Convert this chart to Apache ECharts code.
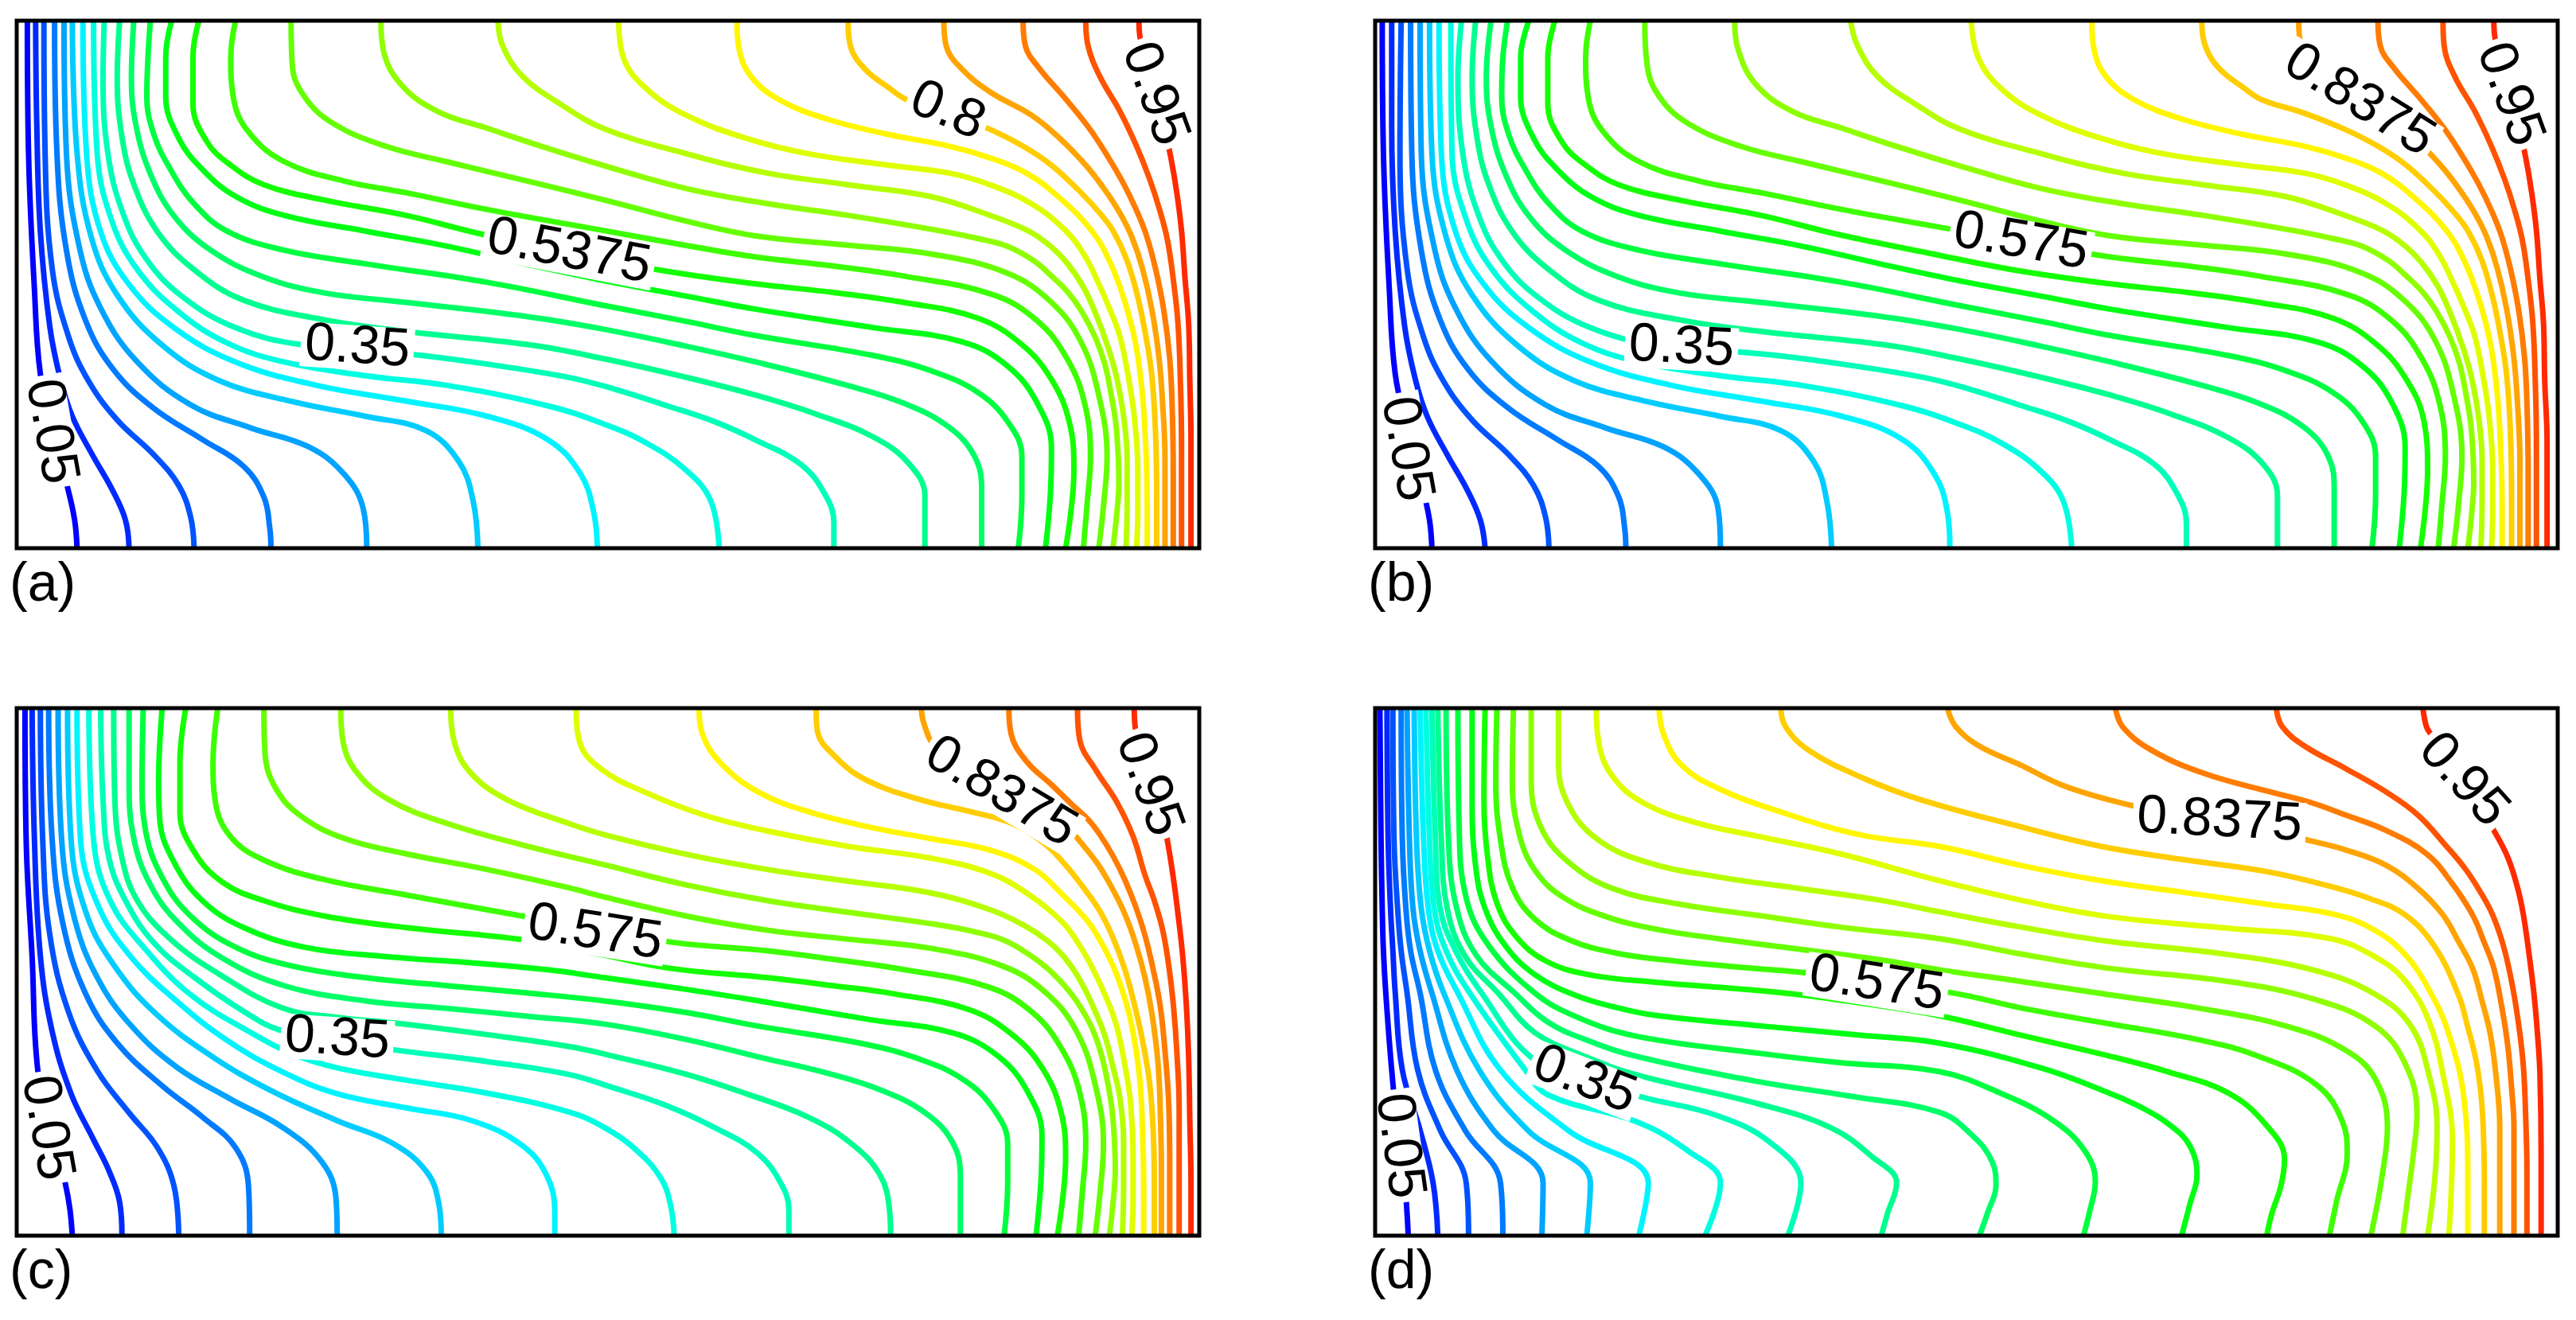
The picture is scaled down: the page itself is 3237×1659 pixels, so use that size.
<!DOCTYPE html>
<html><head><meta charset="utf-8">
<script src="https://cdn.jsdelivr.net/npm/echarts/dist/echarts.min.js"></script>
<style>html,body{margin:0;padding:0;background:#fff;}#c{width:3237px;height:1659px;}</style>
</head><body><div id="c"></div>
<script>
// contour levels (25 isotherms)
const levels = [0.05,0.0875,0.125,0.1625,0.2,0.2375,0.275,0.3125,0.35,0.3875,0.425,0.4625,0.5,0.5375,0.575,0.6125,0.65,0.6875,0.725,0.7625,0.8,0.8375,0.875,0.9125,0.95];

// panel (a): x,y in % of cavity width/height
const linesA = [
[[0.9,100],[1.0,75],[1.5,49],[2.0,33],[3.1,22],[4.3,11.5],[4.9,5.3],[5.1,0]],
[[1.6,100],[1.7,80],[2.0,60],[2.8,42],[3.7,32],[4.7,25],[6.4,17.7],[8.1,11],[9.2,5.3],[9.5,0]],
[[2.3,100],[2.4,75],[3.0,53],[4.4,40],[6.1,31.6],[8.5,24.3],[11.6,17.7],[13.7,11.9],[14.7,6],[15.0,0]],
[[3.2,100],[3.4,75],[4.2,56.5],[5.8,43.3],[8.2,33.8],[11.6,26.5],[15.7,20.6],[19.2,15.5],[20.9,9.7],[21.4,3.8],[21.5,0]],
[[4.0,100],[4.2,75],[5.3,57],[7.1,45.5],[10.2,35.3],[14.7,27.2],[19.8,22.8],[24.7,19.2],[27.7,14],[29.3,7.5],[29.6,0]],
[[4.7,100],[5.1,75],[6.3,59],[8.5,48],[12.3,38.5],[17.1,31.8],[23.3,27.8],[29.5,25.0],[34.6,22.3],[37.4,16.4],[38.6,8.9],[39.0,0]],
[[5.6,100],[5.9,75],[7.1,60],[9.5,50],[13.3,41.8],[18.5,35.3],[25.3,30.9],[32.9,27.9],[39.8,25],[44.9,20.6],[47.7,14],[48.8,6.7],[49.1,0]],
[[6.5,100],[6.8,75],[8.0,62.3],[10.2,52.8],[13.7,44.8],[17.8,38.9],[22.6,35.3],[29.5,32.7],[36.3,30.9],[44.9,27.0],[49.7,23.5],[53.2,20.0],[56.6,14.8],[58.7,8.9],[59.4,0]],
[[7.4,100],[7.3,89],[7.7,75],[8.9,64],[10.9,55],[14.0,47.7],[18.5,41.8],[24.0,38.6],[33.6,36.7],[39.8,34.9],[46.6,32.4],[50.5,30.2],[55.0,27.0],[59.0,24.0],[62.5,20.5],[66.3,15.9],[68.3,10.4],[69.1,4.8],[69.1,0]],
[[8.7,100],[8.5,89],[8.9,78],[9.9,69],[11.9,60],[15.0,52.8],[19.2,47],[26.0,43.3],[32.9,41.1],[43.2,38.6],[49.7,35.9],[56.6,32.4],[62.5,29.0],[67.5,25.5],[72.5,21.0],[75.5,15.9],[76.8,9.9],[76.8,0]],
[[9.9,100],[9.7,89],[10.1,80],[11.3,71],[13.3,63],[16.4,56.5],[20.9,51.4],[26.0,48.4],[32.9,46.6],[43.2,43.9],[49.7,41.5],[56.6,38.3],[62.5,35.3],[70.0,31.0],[75.0,27.5],[78.8,23.0],[81.0,17.4],[81.6,11],[81.6,0]],
[[11.3,100],[11.1,93],[11.0,85.7],[11.6,78.4],[13.0,71.8],[15.0,65.3],[17.8,60.1],[22.6,56.5],[29.5,53.9],[39.8,50.4],[49.7,46.0],[56.6,43.0],[62.5,40.3],[72.5,36.5],[77.5,33.5],[81.3,29.5],[83.8,24.0],[85.0,17.4],[85.0,9.9],[84.7,0]],
[[13.1,100],[12.6,93],[12.6,85.7],[13.7,77.7],[15.7,71.8],[18.5,66.7],[22.6,63.1],[29.5,60.1],[36.3,57.3],[43.2,53.8],[49.7,50.7],[56.6,47.8],[62.5,45.3],[72.5,41.8],[80.0,39.1],[83.8,34.5],[86.3,27.5],[87.5,19.0],[87.4,9.9],[87.0,0]],
[[15.4,100],[14.9,93],[14.9,84.3],[16.1,77],[18.1,72.6],[20.9,68.9],[26.0,66],[32.9,63.1],[39.4,59.5],[47,56],[54.2,52.8],[62.5,50.1],[69.0,48.5],[75.0,46.6],[81.3,43.6],[85.0,38.6],[87.5,32.0],[89.0,24.0],[89.4,14.9],[88.7,0]],
[[18.5,100],[18.1,93],[18.3,85.7],[19.5,79.2],[22.6,73.3],[27.7,69.6],[32.9,67.4],[39.8,64.2],[49.7,60.2],[56.6,57.4],[62.5,55.2],[69.0,53.5],[75.0,51.6],[82.5,48.1],[86.3,43.1],[88.8,36.0],[90.3,27.5],[90.8,17.4],[90.5,8],[90.2,0]],
[[23.2,100],[23.3,91.6],[24.3,85.7],[26.7,80.6],[31.2,76.2],[36.3,73.3],[43.2,69.6],[49.7,66.0],[56.6,62.0],[62.5,59.2],[70.0,57.5],[77.5,55.7],[83.8,52.1],[87.5,46.6],[90.0,39.1],[91.5,29.0],[92.2,17.4],[91.9,8],[91.5,0]],
[[30.8,100],[31.0,94.5],[32.5,87.9],[35.6,82.8],[39.8,79.6],[44.9,75.8],[49.7,72.5],[56.6,68.2],[63.5,65.3],[70.3,63.1],[78.0,60.2],[81.5,58.6],[83.8,57.2],[86.0,54.5],[87.5,51.6],[88.9,48.5],[90.0,45.1],[91.2,40],[92.0,35.0],[92.6,28.5],[93.0,22.5],[93.2,12.4],[93.0,6],[92.7,0]],
[[40.7,100],[41.1,95.2],[42.8,89.4],[45.9,84.3],[49.7,79.5],[56.6,74.8],[63.5,71.1],[70.3,68.9],[77.2,66.7],[82.3,63.1],[85.5,60.2],[87.4,57.3],[88.8,54.1],[90.2,49.5],[91.3,44.1],[92.3,38],[93.0,32.5],[93.6,25],[93.9,17],[93.9,8],[93.8,0]],
[[50.9,100],[51.3,93],[53.2,87.2],[56.6,82.1],[61.7,77.7],[66.9,74.8],[73.8,72.6],[78.9,71.1],[82.3,68.9],[85.8,65.3],[88.7,60.2],[90.3,55.5],[91.3,51.1],[92.4,45.5],[93.3,40.1],[94.0,32.5],[94.5,25.0],[94.8,15],[94.8,7],[94.7,0]],
[[60.9,100],[61.1,94.5],[62.1,89.4],[64.5,85],[68.6,81.3],[73.8,78.4],[78.9,76.2],[82.3,74],[85.4,71.1],[88.3,66.2],[90.9,60.2],[92.4,54.5],[93.6,47.5],[94.6,39],[95.2,29],[95.5,18],[95.6,8],[95.6,0]],
[[70.3,100],[70.5,95.2],[71.7,90.9],[73.8,87.2],[75.3,85],[78.7,82.6],[82.2,79.5],[85.1,76.2],[87.5,72.6],[90.0,67.4],[91.6,63.5],[92.7,60.2],[93.9,54.5],[94.8,47.6],[95.5,40],[96.0,32.5],[96.3,22],[96.4,10],[96.4,0]],
[[78.4,100],[78.6,95.2],[79.9,90.9],[82.3,86.5],[85.8,82.1],[88.2,77.7],[90.4,72.6],[92.0,68.0],[93.3,63.5],[94.3,59],[95.2,53],[96.0,45.1],[96.6,36],[96.9,27.5],[97.1,17],[97.1,0]],
[[85.1,100],[85.3,95.2],[86.5,90.9],[88.5,85.7],[90.6,79.9],[92.2,74.5],[93.5,69.5],[94.6,64.5],[95.5,59.5],[96.3,53],[97.0,45.1],[97.5,36],[97.7,27.5],[97.8,15],[97.8,0]],
[[90.4,100],[90.6,95.2],[91.6,89.4],[93.3,82.8],[94.7,76.2],[95.8,70],[96.6,64.5],[97.3,58.5],[97.8,51],[98.2,42.6],[98.4,32],[98.5,20],[98.5,0]],
[[94.9,100],[95.0,96.7],[95.6,91],[96.3,86],[97.0,80],[97.6,74],[98.1,67.4],[98.5,60.2],[98.8,51],[99.1,42.6],[99.2,32],[99.3,20],[99.3,0]]
];

// panel (b)
const linesB = [
[[0.6,100],[0.7,75],[1.2,49],[1.7,33],[2.8,22],[4.0,11.5],[4.6,5.3],[4.8,0]],
[[1.4,100],[1.4,80],[1.7,60],[2.5,42],[3.4,32],[4.4,25],[6.1,17.7],[7.8,11],[8.9,5.3],[9.3,0]],
[[2.2,100],[2.1,75],[2.7,53],[4.1,40],[5.8,31.6],[8.2,24.3],[11.3,17.7],[13.4,11.9],[14.4,6],[14.7,0]],
[[3.0,100],[3.1,75],[3.9,56.5],[5.5,43.3],[7.9,33.8],[11.3,26.5],[15.4,20.6],[18.9,15.5],[20.6,9.7],[21.1,3.8],[21.2,0]],
[[3.8,100],[3.9,75],[5.0,57],[6.8,45.5],[9.9,35.3],[14.4,27.2],[19.5,22.8],[24.4,19.2],[27.4,14],[29.0,7.5],[29.2,0]],
[[4.6,100],[4.8,75],[6.0,59],[8.2,48],[12.0,38.5],[16.8,31.8],[23.0,27.8],[29.2,25.0],[34.3,22.3],[37.1,16.4],[38.2,8.9],[38.6,0]],
[[5.4,100],[5.6,75],[6.8,60],[9.2,50],[13.0,41.8],[18.2,35.3],[25.0,30.9],[32.6,27.9],[39.5,25],[44.6,20.6],[47.3,14],[48.4,6.7],[48.6,0]],
[[6.4,100],[6.5,75],[7.7,62.3],[9.9,52.8],[13.4,44.8],[17.5,38.9],[22.3,35.3],[29.2,32.7],[36.0,30.9],[44.6,27.0],[49.4,23.5],[52.9,20.0],[56.2,14.8],[58.2,8.9],[58.9,0]],
[[7.3,100],[7.0,89],[7.4,75],[8.6,64],[10.6,55],[13.7,47.7],[18.2,41.8],[23.7,38.6],[33.3,36.7],[39.5,34.9],[46.3,32.4],[50.2,30.2],[54.7,27.0],[58.7,24.0],[62.2,20.5],[65.9,15.9],[67.8,10.4],[68.6,4.8],[68.6,0]],
[[8.5,100],[8.2,89],[8.6,78],[9.6,69],[11.6,60],[14.7,52.8],[18.9,47],[25.7,43.3],[32.6,41.1],[42.9,38.6],[49.4,35.9],[56.3,32.4],[62.2,29.0],[67.2,25.5],[72.1,21.0],[75.1,15.9],[76.3,9.9],[76.3,0]],
[[9.8,100],[9.4,89],[9.8,80],[11.0,71],[13.0,63],[16.1,56.5],[20.6,51.4],[25.7,48.4],[32.6,46.6],[42.9,43.9],[49.4,41.5],[56.3,38.3],[62.2,35.3],[69.7,31.0],[74.7,27.5],[78.5,23.0],[80.6,17.4],[81.1,11],[81.1,0]],
[[11.2,100],[10.8,93],[10.7,85.7],[11.3,78.4],[12.7,71.8],[14.7,65.3],[17.5,60.1],[22.3,56.5],[29.2,53.9],[39.5,50.4],[49.4,46.0],[56.3,43.0],[62.2,40.3],[72.2,36.5],[77.2,33.5],[81.0,29.5],[83.5,24.0],[84.6,17.4],[84.6,9.9],[84.3,0]],
[[13.0,100],[12.3,93],[12.3,85.7],[13.4,77.7],[15.4,71.8],[18.2,66.7],[22.3,63.1],[29.2,60.1],[36.0,57.3],[42.9,53.8],[49.4,50.7],[56.3,47.8],[62.2,45.3],[72.2,41.8],[79.7,39.1],[83.5,34.5],[86.0,27.5],[87.1,19.0],[87.0,9.9],[86.6,0]],
[[15.2,100],[14.6,93],[14.6,84.3],[15.8,77],[17.8,72.6],[20.6,68.9],[25.7,66],[32.6,63.1],[39.1,59.5],[46.7,56],[53.9,52.8],[62.2,50.1],[68.7,48.5],[74.7,46.6],[81.0,43.6],[84.7,38.6],[87.2,32.0],[88.7,24.0],[89.0,14.9],[88.4,0]],
[[18.2,100],[17.8,93],[18.0,85.7],[19.2,79.2],[22.3,73.3],[27.4,69.6],[32.6,67.4],[39.5,64.2],[49.4,60.2],[56.3,57.4],[62.2,55.2],[68.7,53.5],[74.7,51.6],[82.2,48.1],[86.0,43.1],[88.5,36.0],[90.0,27.5],[90.5,17.4],[90.2,8],[89.9,0]],
[[22.8,100],[23.0,91.6],[24.0,85.7],[26.4,80.6],[30.9,76.2],[36.0,73.3],[42.9,69.6],[49.4,66.0],[56.3,62.0],[62.2,59.2],[69.7,57.5],[77.2,55.7],[83.5,52.1],[87.2,46.6],[89.7,39.1],[91.2,29.0],[91.9,17.4],[91.6,8],[91.2,0]],
[[30.4,100],[30.7,94.5],[32.2,87.9],[35.3,82.8],[39.5,79.6],[44.6,75.8],[49.4,72.5],[56.3,68.2],[63.2,65.3],[70.0,63.1],[77.7,60.2],[81.2,58.6],[83.5,57.2],[85.7,54.5],[87.2,51.6],[88.6,48.5],[89.7,45.1],[90.9,40],[91.7,35.0],[92.3,28.5],[92.7,22.5],[92.9,12.4],[92.7,6],[92.4,0]],
[[40.2,100],[40.8,95.2],[42.5,89.4],[45.6,84.3],[49.4,79.5],[56.3,74.8],[63.2,71.1],[70.0,68.9],[76.9,66.7],[82.0,63.1],[85.2,60.2],[87.1,57.3],[88.5,54.1],[89.9,49.5],[91.0,44.1],[92.0,38],[92.7,32.5],[93.3,25],[93.6,17],[93.6,8],[93.5,0]],
[[50.4,100],[51.0,93],[52.9,87.2],[56.3,82.1],[61.4,77.7],[66.6,74.8],[73.5,72.6],[78.6,71.1],[82.0,68.9],[85.5,65.3],[88.4,60.2],[90.0,55.5],[91.0,51.1],[92.1,45.5],[93.0,40.1],[93.7,32.5],[94.2,25.0],[94.5,15],[94.5,7],[94.4,0]],
[[60.6,100],[60.8,94.5],[61.8,89.4],[64.2,85],[68.3,81.3],[73.5,78.4],[78.6,76.2],[82.0,74],[85.1,71.1],[88.0,66.2],[90.6,60.2],[92.1,54.5],[93.3,47.5],[94.3,39],[94.9,29],[95.2,18],[95.3,8],[95.3,0]],
[[69.9,100],[70.2,95.2],[71.4,90.9],[73.5,87.2],[75.0,85],[78.4,82.6],[81.9,79.5],[84.8,76.2],[87.2,72.6],[89.7,67.4],[91.3,63.5],[92.4,60.2],[93.6,54.5],[94.5,47.6],[95.2,40],[95.7,32.5],[96.0,22],[96.1,10],[96.1,0]],
[[78.1,100],[78.3,95.2],[79.6,90.9],[82.0,86.5],[85.5,82.1],[87.9,77.7],[90.1,72.6],[91.7,68.0],[93.0,63.5],[94.0,59],[94.9,53],[95.7,45.1],[96.3,36],[96.6,27.5],[96.8,17],[96.8,0]],
[[84.8,100],[85.0,95.2],[86.2,90.9],[88.2,85.7],[90.3,79.9],[91.9,74.5],[93.2,69.5],[94.3,64.5],[95.2,59.5],[96.0,53],[96.7,45.1],[97.2,36],[97.4,27.5],[97.5,15],[97.5,0]],
[[90.3,100],[90.4,95.2],[91.3,89.4],[93.0,82.8],[94.4,76.2],[95.5,70],[96.3,64.5],[97.0,58.5],[97.5,51],[97.9,42.6],[98.1,32],[98.2,20],[98.2,0]],
[[94.6,100],[94.7,96.7],[95.3,91],[96.0,86],[96.7,80],[97.3,74],[97.8,67.4],[98.2,60.2],[98.5,51],[98.8,42.6],[98.9,32],[99.1,20],[99.1,0]]
];

// panel (c)
const linesC = [
[[0.7,100],[0.8,75],[1.3,53],[1.8,31],[3.0,20],[4.1,10],[4.5,5],[4.7,0]],
[[1.3,100],[1.5,75],[2.0,53],[3.0,38.7],[4.6,26.9],[6.5,18.2],[7.8,12.3],[8.7,6.4],[8.9,0]],
[[2.0,100],[2.2,75],[2.8,57],[4.4,42.3],[6.8,31.3],[9.5,23.3],[11.9,16.7],[13.3,9.4],[13.7,0]],
[[2.7,100],[3.0,75],[3.9,59.2],[5.8,46],[8.5,36.5],[12.3,28.4],[15.7,22.5],[18.5,16.7],[19.6,9.4],[19.7,0]],
[[3.5,100],[3.8,75],[4.9,60],[6.8,49],[9.6,40],[13.5,32],[18.0,26],[22.5,20.5],[25.8,14],[27.0,7],[27.1,0]],
[[4.3,100],[4.6,75],[5.9,61],[8.3,51],[11.8,42],[16.5,34],[21.5,27.5],[27.1,21.8],[31.8,17.5],[34.7,12],[35.7,6],[35.9,0]],
[[5.1,100],[5.4,75],[6.9,62.5],[9.6,53],[13.5,44.5],[17.8,37],[22.5,31.0],[27.1,26.9],[33.0,24.2],[38.5,21.8],[42.8,17.0],[44.9,11],[45.5,4],[45.5,0]],
[[6.1,100],[6.5,75],[7.9,63.5],[10.8,54.5],[14.8,45.5],[19.8,38.5],[23.5,34.3],[27.1,31.8],[32.9,29.5],[39.8,27.0],[46.6,23.5],[49.7,20.5],[52.5,16],[54.5,10.8],[55.3,5.7],[55.6,0]],
[[7.1,100],[7.3,82.6],[7.8,71.6],[9.2,63.5],[11.6,55.5],[15.0,49.0],[19.2,42.5],[22.2,39.0],[27,36.8],[32.0,35.2],[39.8,33.0],[46.6,30.6],[50.5,28.0],[54.9,24.7],[59.0,20.5],[62.5,15.9],[64.5,10.4],[65.3,4.8],[65.3,0]],
[[8.2,100],[8.3,82.6],[8.9,71.6],[10.2,63.5],[13.0,56.2],[17.1,49.6],[22.4,43.2],[27,41.4],[32.0,40.3],[39.8,38.1],[46.6,35.9],[50.5,34.0],[56.6,30.6],[61.7,26.9],[66.9,22.5],[70.6,17.4],[73.0,11.5],[73.8,5.0],[73.9,0]],
[[9.5,100],[9.5,86.2],[9.9,75.3],[11.3,66.5],[13.7,59.2],[17.4,52.6],[22.6,47.4],[29.5,44.5],[36.3,43.1],[43.2,41.6],[49.7,40.1],[56.6,37.2],[62.5,34.0],[68.2,31.0],[73.2,27.5],[77.0,23.0],[79.2,17.4],[79.8,11],[79.8,0]],
[[10.7,100],[10.6,86.2],[10.9,76.7],[12.3,67.9],[14.7,60.6],[18.5,54.7],[23.3,51.1],[29.5,48.9],[36.3,47.4],[43.2,46.0],[49.7,44.5],[56.6,42.3],[62.5,39.8],[71.3,36.5],[76.3,33.5],[80.1,29.5],[82.6,24.0],[83.8,17.4],[83.8,9.9],[83.5,0]],
[[12.3,100],[12.0,86.2],[12.1,78.8],[13.3,70.8],[15.7,63.5],[19.2,58.4],[24.3,54.7],[31.2,52.9],[38.0,51.8],[44.9,50.4],[49.7,48.9],[56.6,46.7],[62.5,44.6],[72.0,41.0],[79.2,38.4],[83.0,34.0],[85.5,27.2],[86.7,19.0],[86.6,9.9],[86.2,0]],
[[14.3,100],[13.8,89.5],[13.8,80.2],[15.0,72.8],[17.4,67.0],[20.9,63.5],[26.0,60.6],[32.9,58.4],[42.8,56.1],[49.0,53.5],[55.2,50.7],[63.5,48.9],[69.0,47.4],[74.3,45.8],[80.6,42.8],[84.3,37.9],[86.8,31.5],[88.3,23.5],[88.7,14.9],[88.0,0]],
[[17.0,100],[16.6,89.5],[16.8,82.2],[18.1,75.6],[20.9,71.2],[26.0,67.5],[32.9,64.6],[43.2,60.4],[49.5,58.0],[55.5,55.6],[63.5,54.0],[69.0,52.4],[74.6,50.6],[82.1,47.2],[85.9,42.3],[88.4,35.3],[89.9,27.0],[90.4,17.4],[90.1,8],[89.8,0]],
[[20.9,100],[21.0,91.4],[21.9,84.8],[24.0,79.6],[27.7,75.3],[32.9,72.4],[39.8,69.4],[46.6,66.0],[49.7,64.2],[56.6,60.6],[63.5,57.9],[70.3,56.2],[77.2,54.5],[83.5,51.0],[87.2,45.7],[89.7,38.4],[91.2,28.6],[91.9,17.4],[91.6,8],[91.2,0]],
[[27.4,100],[27.6,93.6],[28.8,87.7],[31.5,82.6],[36.3,78.2],[43.2,73.8],[49.7,70.3],[56.6,66.5],[63.5,63.5],[70.3,61.3],[77.7,59.0],[81.0,57.6],[83.5,56.0],[85.6,53.3],[87.2,50.6],[88.6,47.4],[89.7,44.2],[90.9,39.5],[91.7,34.5],[92.3,28.5],[92.7,22.3],[92.9,12.4],[92.7,6],[92.4,0]],
[[36.7,100],[37.0,93.6],[38.4,87.7],[41.5,82.6],[46.6,78.2],[49.7,76.0],[56.6,72.3],[63.5,69.4],[70.3,67.2],[77.2,65.0],[82.3,61.8],[85.2,58.8],[87.1,56.0],[88.5,53.0],[89.9,48.5],[91.0,43.5],[92.0,38],[92.7,32.0],[93.3,26],[93.6,18],[93.6,9],[93.5,0]],
[[47.3,100],[47.6,93.6],[49.4,88.5],[53.2,84.0],[58.3,79.6],[63.5,76.7],[70.3,73.8],[77.2,71.6],[82.3,68.7],[85.5,64.8],[88.4,59.5],[89.8,55.3],[91.0,50.6],[92.1,45.3],[93.0,39.8],[93.7,32.5],[94.2,25.0],[94.4,15],[94.4,7],[94.3,0]],
[[57.7,100],[58.0,95.0],[59.7,89.2],[62.8,84.0],[66.9,80.4],[72.0,77.5],[77.2,75.3],[82.3,73.1],[86.1,69.4],[88.5,64.5],[90.6,59.5],[91.9,54.8],[93.0,49.6],[93.9,43.5],[94.5,37.3],[95.0,29],[95.2,20.0],[95.3,10],[95.3,0]],
[[67.6,100],[67.7,95.8],[69.3,90.6],[72.0,86.2],[76.5,82.6],[80.6,80.4],[84.1,78.2],[86.8,74.5],[88.6,70.5],[90.2,66],[91.6,61.5],[92.7,56.5],[93.7,50.5],[94.5,44],[95.2,37],[95.8,29],[96.1,20],[96.2,10],[96.2,0]],
[[76.5,100],[76.7,97.2],[77.6,92.8],[79.6,89.2],[82.3,86.2],[85.8,82.6],[88.5,78.2],[90.0,74.5],[91.4,70.5],[92.6,66],[93.7,61],[94.6,55.5],[95.4,49],[96.0,42],[96.5,33],[96.7,24],[96.8,12],[96.8,0]],
[[83.9,100],[84.1,95.0],[85.4,89.9],[87.5,85.5],[89.2,81.8],[90.6,78.9],[91.6,76.0],[92.7,72],[93.7,67.5],[94.6,62.5],[95.4,57],[96.1,50.5],[96.7,43.5],[97.1,35],[97.4,26],[97.5,15],[97.5,0]],
[[89.7,100],[89.9,93.9],[91.3,88.1],[93.0,82.3],[94.4,75.7],[95.4,68.4],[96.2,63.5],[96.9,58],[97.4,51.5],[97.8,44],[98.1,35],[98.3,24],[98.3,12],[98.3,0]],
[[94.5,100],[94.6,96.1],[95.4,91.4],[96.4,84.8],[97.3,74.9],[97.8,67.9],[98.2,61],[98.6,53],[98.9,44],[99.1,34],[99.2,22],[99.3,10],[99.3,0]]
];

// panel (d)
const linesD = [
[[0.4,100],[0.5,75],[0.6,62],[0.7,54],[0.9,46],[1.4,31.4],[2.0,18],[2.5,10],[2.8,0]],
[[1.0,100],[1.1,75],[1.3,62],[1.5,54],[1.7,46],[2.3,31.4],[3.8,20],[4.9,10],[5.3,0]],
[[1.5,100],[1.6,75],[1.9,62],[2.2,54],[2.7,46],[3.6,31.4],[5.5,20],[7.7,10],[7.9,0]],
[[2.2,100],[2.3,75],[2.6,62],[3.0,54],[3.8,46],[5.1,31.4],[7.6,20],[10.6,10],[10.8,0]],
[[2.7,100],[2.9,75],[3.2,62],[3.8,54],[4.8,46],[6.9,31.4],[10.0,20],[14.2,10],[14.1,0]],
[[3.3,100],[3.5,75],[3.9,62],[4.6,54],[5.8,46],[8.8,31.4],[12.9,20],[18.2,10],[17.9,0]],
[[3.8,100],[4.1,75],[4.5,62],[5.3,54],[7.0,46],[10.6,31.4],[16.3,20],[23.1,10],[22.3,0]],
[[4.3,100],[4.6,75],[5.0,62],[6.0,54],[8.0,46],[12.7,31.4],[14.6,26.7],[22.1,21.6],[26.5,16],[29.2,10],[27.9,0]],
[[4.8,100],[5.1,75],[5.5,62],[6.8,54],[9.0,46],[13.2,33.8],[17.7,29.5],[22.5,26.3],[29.0,22.7],[33.5,17.5],[36.0,10],[34.9,0]],
[[5.3,100],[5.6,75],[6.1,62],[7.6,53],[10.4,46],[13.5,38.5],[17.7,34.0],[22.1,30.5],[32.4,25.0],[38.5,20.5],[42.0,15.0],[44.1,10],[43.3,4.0],[42.8,0]],
[[6.0,100],[6.2,75],[6.9,62],[8.6,53],[11.8,46],[14.6,40.5],[18.0,37],[22.1,34.0],[32.4,29.2],[40.0,26.5],[47.7,23.4],[50.5,19.0],[52.2,13.9],[52.5,9.5],[51.8,4.4],[51.1,0]],
[[7.0,100],[7.1,78],[7.7,64],[9.6,55],[13.5,46],[17,41.5],[22.1,37.8],[32.4,34.6],[39.3,32.8],[47.7,31.1],[52.9,27.0],[57.3,21.9],[60.0,16.1],[60.9,10.2],[60.4,4.4],[59.9,0]],
[[8.2,100],[8.2,82.6],[8.5,70],[9.3,62],[11.0,55],[13.5,49.5],[17.0,45.5],[20.5,43.2],[23.9,41.7],[32.4,39.8],[41.0,38.0],[47.7,36.5],[56.3,31.8],[62.0,27.1],[64.8,24.3],[67.3,20.8],[68.9,17.0],[69.5,11.5],[68.9,6.0],[68.2,0]],
[[9.3,100],[9.2,82.6],[9.5,72],[10.3,63],[12.0,56.5],[14.5,52.0],[18.0,49.5],[23.9,48.0],[30.7,46.8],[36.2,45.6],[42.0,43.8],[47.7,41.7],[55.0,37.8],[62.0,34.1],[67.0,31.1],[72.1,27.1],[75.3,21.1],[76.9,14.5],[76.6,9.5],[75.8,4.0],[75.4,0]],
[[10.3,100],[10.2,86.3],[10.6,75],[11.6,66],[13.5,60],[16.5,56.0],[20.5,53.5],[25.6,52.0],[32.4,50.6],[36.4,49.8],[42.4,47.6],[48.6,46.1],[55.0,43.0],[62.0,40.2],[69.5,37.2],[74.6,34.1],[79.6,28.6],[81.8,21.6],[82.2,15.5],[81.3,6.5],[80.7,0]],
[[11.7,100],[11.6,86.3],[12.2,76],[13.6,69],[16.0,64],[19.5,60.5],[23.5,58.2],[29.0,56.3],[35.9,54.3],[42.7,52.3],[47.7,50.4],[54.6,48.2],[62.0,45.7],[69.5,43.2],[77.1,39.7],[82.1,35.1],[84.6,29.6],[85.6,20.6],[85.1,10.6],[84.2,0]],
[[13.2,100],[13.2,86.3],[14.0,77.5],[16.3,70.9],[20.1,65.8],[25.6,62.9],[32.4,60.7],[39.3,58.5],[47.7,56.3],[54.6,53.4],[62.0,50.7],[72.1,48.2],[79.6,44.7],[84.6,39.7],[87.1,32.6],[88.1,23.1],[87.8,15.5],[87.3,7],[86.9,0]],
[[15.5,100],[15.5,89.9],[16.3,81.9],[18.7,75.3],[22.8,70.9],[29.0,68.0],[35.9,65.8],[42.7,63.6],[47.7,61.4],[54.6,58.5],[62.0,55.8],[72.1,53.3],[79.6,50.2],[84.6,45.7],[87.6,39.7],[89.1,30.6],[89.8,20.6],[89.6,10.6],[89.0,0]],
[[18.7,100],[18.9,93.6],[20.1,87.0],[22.8,81.9],[27.3,78.2],[32.4,75.7],[39.3,72.4],[47.7,67.3],[54.6,63.6],[62.0,60.5],[72.1,58.3],[80.8,56.3],[84.6,52.8],[87.1,48.3],[89.1,40.7],[90.3,30.6],[91.1,18.1],[90.8,0]],
[[24.0,100],[24.4,95.0],[25.9,89.2],[29.0,84.8],[34.2,80.4],[41.0,76.0],[47.7,73.8],[54.6,70.2],[61.4,67.3],[68.3,65.1],[75.2,62.9],[81.3,60.8],[84.6,57.8],[87.1,53.3],[89.1,46.7],[90.8,38.2],[92.1,25.6],[92.4,10.6],[92.4,0]],
[[34.3,100],[34.7,96.5],[36.6,92.1],[41.0,87.0],[46.2,82.6],[54.6,77.5],[61.4,73.8],[68.3,71.3],[75.2,69.1],[80.3,66.5],[84.0,64.0],[87.1,60.8],[89.6,54.8],[91.6,45.7],[92.4,39.5],[93.1,33.2],[93.5,27],[93.7,20.6],[93.8,10],[93.8,0]],
[[48.4,100],[49.1,96.5],[51.1,92.8],[54.6,89.2],[58.0,85.5],[62.1,82.6],[66.0,80.6],[71.4,78.6],[76.0,76.5],[79.0,74.9],[82.1,73.1],[85.5,70.2],[88.2,65.8],[90.3,60.8],[91.6,55.8],[92.8,50.7],[93.6,44.5],[94.3,38.2],[94.8,30],[95.1,20.6],[95.1,10],[95.1,0]],
[[62.6,100],[63.2,96.5],[65.6,92.1],[70.0,87.7],[75.2,84.4],[79.0,82.2],[82.1,79.7],[85.5,76.8],[88.9,72.4],[91.0,67.0],[92.8,60.8],[93.8,55.5],[94.6,50.7],[95.3,43],[95.8,35.6],[96.1,28],[96.3,20.6],[96.3,10],[96.3,0]],
[[76.2,100],[76.7,96.5],[78.6,92.8],[82.1,88.5],[85.5,84.1],[88.2,79.7],[90.6,73.8],[92.2,69.5],[93.5,65],[94.5,60.8],[95.4,55],[96.1,48.2],[96.7,40],[97.1,32],[97.3,22],[97.4,12],[97.4,0]],
[[88.6,100],[88.9,96.5],[89.3,95.0],[92.0,86.3],[94.6,76.8],[95.8,71.6],[96.6,66],[97.1,60.8],[97.6,53],[98.0,45.7],[98.3,38],[98.5,30.6],[98.6,15],[98.6,0]]
];

// in-line contour labels: [x, y, text, angle in degrees]
const labelsA = [[2.85,22.1,'0.05',-80],[28.8,38.0,'0.35',-4],[46.7,56.1,'0.5375',-11],[78.7,82.8,'0.8',-23],[96.2,86.1,'0.95',-70]];
const labelsB = [[2.6,18.8,'0.05',-80],[25.9,38.0,'0.35',-3],[54.6,58.0,'0.575',-10],[83.2,84.8,'0.8375',-32],[95.9,86.0,'0.95',-70]];
const labelsC = [[2.5,20.4,'0.05',-80],[27.1,37.2,'0.35',-4],[48.9,57.3,'0.575',-9],[83.2,84.0,'0.8375',-31],[95.7,85.5,'0.95',-70]];
const labelsD = [[2.0,17.0,'0.05',-82],[17.7,29.4,'0.35',-21],[42.4,47.6,'0.575',-9],[71.4,78.6,'0.8375',-3],[92.0,86.3,'0.95',-48]];

const panelTags = ['(a)','(b)','(c)','(d)'];

// ---------- layout & drawing ----------
const panels = [
  {lines: linesA, labels: labelsA, left: 21,   top: 26},
  {lines: linesB, labels: labelsB, left: 1728, top: 26},
  {lines: linesC, labels: labelsC, left: 21,   top: 890},
  {lines: linesD, labels: labelsD, left: 1728, top: 890}
];
const PW = 1486, PH = 663;
const FONT = '"Liberation Sans", Arial, Helvetica, sans-serif';

function levelColor(v){
  const h = 240 - (v - levels[0]) / (levels[levels.length-1] - levels[0]) * 230;
  return 'hsl(' + h.toFixed(1) + ',100%,50%)';
}

const grid = [], xAxis = [], yAxis = [], series = [], graphic = [];
panels.forEach((p, k) => {
  grid.push({left: p.left, top: p.top, width: PW, height: PH, show: false, containLabel: false});
  xAxis.push({type: 'value', gridIndex: k, min: 0, max: 100, show: false});
  yAxis.push({type: 'value', gridIndex: k, min: 0, max: 100, show: false});
  p.lines.forEach((ln, i) => {
    series.push({
      type: 'line', xAxisIndex: k, yAxisIndex: k, data: ln,
      showSymbol: false, symbol: 'none', smooth: 0.4, clip: true,
      silent: true, animation: false, z: 2,
      lineStyle: {color: levelColor(levels[i]), width: 7, cap: 'butt', join: 'round'}
    });
  });
  const labs = p.labels;
  series.push({
    type: 'custom', xAxisIndex: k, yAxisIndex: k, z: 5, silent: true, animation: false,
    data: labs.map(l => [l[0], l[1]]),
    renderItem: function(params, api){
      const l = labs[params.dataIndex];
      const pt = api.coord([api.value(0), api.value(1)]);
      return {
        type: 'text', x: pt[0], y: pt[1], rotation: l[3] * Math.PI / 180,
        style: {
          text: l[2], fill: '#000', fontSize: 68, fontFamily: FONT,
          align: 'center', verticalAlign: 'middle',
          backgroundColor: '#fff', padding: [0, 5], lineHeight: 56
        }
      };
    }
  });
  graphic.push({
    type: 'rect', z: 20, silent: true,
    shape: {x: p.left, y: p.top, width: PW, height: PH},
    style: {fill: 'none', stroke: '#000', lineWidth: 5}
  });
  graphic.push({
    type: 'text', z: 20, silent: true, x: p.left - 9, y: p.top + PH + 47,
    style: {text: panelTags[k], fill: '#000', fontSize: 68, fontFamily: FONT, align: 'left', verticalAlign: 'middle'}
  });
});

const chart = echarts.init(document.getElementById('c'), null, {renderer: 'canvas'});
chart.setOption({
  backgroundColor: '#fff',
  animation: false,
  grid, xAxis, yAxis, series, graphic
});
</script>
</body></html>
